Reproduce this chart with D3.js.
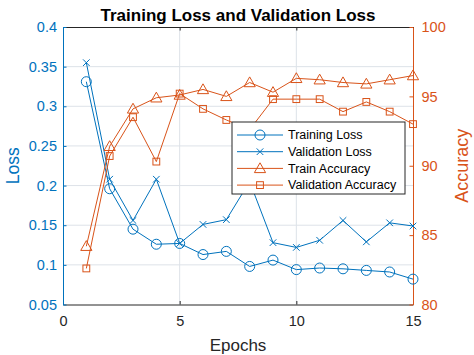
<!DOCTYPE html>
<html><head><meta charset="utf-8">
<script src="https://cdn.jsdelivr.net/npm/d3@7"></script>
<style>body{margin:0;background:#fff}svg{display:block;font-family:"Liberation Sans",Arial,sans-serif}</style>
</head><body><svg id="c" width="474" height="355"></svg>
<script>
const epochs = [1,2,3,4,5,6,7,8,9,10,11,12,13,14,15];
const trainLoss = [0.331,0.196,0.145,0.126,0.127,0.113,0.117,0.098,0.106,0.094,0.096,0.095,0.093,0.091,0.082];
const valLoss   = [0.355,0.208,0.156,0.208,0.127,0.151,0.157,0.205,0.128,0.122,0.131,0.156,0.129,0.153,0.149];
const trainAcc  = [84.2,91.4,94.1,94.9,95.1,95.5,95.0,96.0,95.3,96.3,96.2,96.0,95.9,96.2,96.5];
const valAcc    = [82.6,90.7,93.5,90.3,95.2,94.1,93.3,92.6,94.8,94.8,94.8,93.9,94.6,93.9,93.0];
const xTicks = [0,5,10,15];
const lossTicks = [0.05,0.1,0.15,0.2,0.25,0.3,0.35,0.4];
const lossTickLabels = ["0.05","0.1","0.15","0.2","0.25","0.3","0.35","0.4"];
const accTicks = [80,85,90,95,100];
const legendLabels = ["Training Loss","Validation Loss","Train Accuracy","Validation Accuracy"];
const titleText = "Training Loss and Validation Loss";

const BLUE = "#0072BD", ORANGE = "#D95319", DARK = "#262626";
const L = 63, R = 413, T = 27, B = 304.5;
const svg = d3.select("#c");
const x = d3.scaleLinear().domain([0,15]).range([L,R]);
const yL = d3.scaleLinear().domain([0.05,0.4]).range([B,T]);
const yR = d3.scaleLinear().domain([80,100]).range([B,T]);

// grid
const g = svg.append("g");
g.selectAll(".gx").data(xTicks.slice(1,-1)).enter().append("line")
  .attr("x1",d=>x(d)).attr("x2",d=>x(d)).attr("y1",T).attr("y2",B)
  .attr("stroke","#dde2e8").attr("stroke-width",1);
g.selectAll(".gy").data(lossTicks.slice(1,-1)).enter().append("line")
  .attr("x1",L).attr("x2",R).attr("y1",d=>yL(d)).attr("y2",d=>yL(d))
  .attr("stroke","#dde2e8").attr("stroke-width",1);

// axes
const fs = "14.5px";
const ax = svg.append("g").attr("transform",`translate(0,${B})`)
  .call(d3.axisBottom(x).tickValues(xTicks).tickFormat(d3.format("d")).tickSize(-3.5).tickSizeOuter(0).tickPadding(11));
ax.select(".domain").attr("stroke",DARK);
ax.selectAll("line").attr("stroke",DARK);
ax.selectAll("text").attr("fill",DARK).style("font-size",fs).attr("font-family","Liberation Sans, Arial");
const axT = svg.append("g").attr("transform",`translate(0,${T})`)
  .call(d3.axisTop(x).tickValues(xTicks).tickFormat("").tickSize(-3.5).tickSizeOuter(0));
axT.select(".domain").attr("stroke",DARK);
axT.selectAll("line").attr("stroke",DARK);

const al = svg.append("g").attr("transform",`translate(${L},0)`)
  .call(d3.axisLeft(yL).tickValues(lossTicks).tickFormat((d,i)=>lossTickLabels[i]).tickSize(-3.5).tickSizeOuter(0).tickPadding(6));
al.select(".domain").attr("stroke",BLUE);
al.selectAll("line").attr("stroke",BLUE);
al.selectAll("text").attr("fill",BLUE).style("font-size",fs).attr("font-family","Liberation Sans, Arial");

const ar = svg.append("g").attr("transform",`translate(${R},0)`)
  .call(d3.axisRight(yR).tickValues(accTicks).tickFormat(d3.format("d")).tickSize(-3.5).tickSizeOuter(0).tickPadding(8.5));
ar.select(".domain").attr("stroke",ORANGE);
ar.selectAll("line").attr("stroke",ORANGE);
ar.selectAll("text").attr("fill",ORANGE).style("font-size",fs).attr("font-family","Liberation Sans, Arial");

// labels
svg.append("text").attr("x",(L+R)/2).attr("y",20.5).attr("text-anchor","middle")
  .style("font-size","17px").attr("font-weight","bold").attr("fill","#000").text(titleText);
svg.append("text").attr("x",(L+R)/2).attr("y",350.5).attr("text-anchor","middle")
  .style("font-size","17px").attr("fill",DARK).text("Epochs");
svg.append("text").attr("transform",`translate(18.5,${(T+B)/2}) rotate(-90)`).attr("text-anchor","middle")
  .style("font-size","17.5px").attr("fill",BLUE).text("Loss");
svg.append("text").attr("transform",`translate(467.5,${(T+B)/2}) rotate(-90)`).attr("text-anchor","middle")
  .style("font-size","18px").attr("fill",ORANGE).text("Accuracy");

// markers
function marker(sel, type, color){
  if(type==="o") sel.append("circle").attr("r",5).attr("fill","none").attr("stroke",color);
  if(type==="x") sel.append("path").attr("d","M-3.3,-3.3L3.3,3.3M-3.3,3.3L3.3,-3.3").attr("fill","none").attr("stroke",color);
  if(type==="^") sel.append("path").attr("d","M0,-5.6L5.6,4.2L-5.6,4.2Z").attr("fill","none").attr("stroke",color);
  if(type==="s") sel.append("rect").attr("x",-3.4).attr("y",-3.4).attr("width",6.8).attr("height",6.8).attr("fill","none").attr("stroke",color);
}
const series = [
  {vals:trainLoss, y:yL, color:BLUE, m:"o"},
  {vals:valLoss, y:yL, color:BLUE, m:"x"},
  {vals:trainAcc, y:yR, color:ORANGE, m:"^"},
  {vals:valAcc, y:yR, color:ORANGE, m:"s"}
];
series.forEach(s=>{
  const line = d3.line().x((d,i)=>x(epochs[i])).y(d=>s.y(d));
  svg.append("path").datum(s.vals).attr("d",line).attr("fill","none").attr("stroke",s.color).attr("stroke-width",1);
  s.vals.forEach((v,i)=>{
    const mg = svg.append("g").attr("transform",`translate(${x(epochs[i])},${s.y(v)})`);
    marker(mg, s.m, s.color);
  });
});

// legend
const lg = svg.append("g");
lg.append("rect").attr("x",232).attr("y",122).attr("width",173).attr("height",72)
  .attr("fill","#fff").attr("stroke",DARK).attr("stroke-width",1);
legendLabels.forEach((lab,i)=>{
  const cy = 135 + i*16.7;
  const s = series[i];
  lg.append("line").attr("x1",237).attr("x2",283).attr("y1",cy).attr("y2",cy).attr("stroke",s.color);
  marker(lg.append("g").attr("transform",`translate(260,${cy})`), s.m, s.color);
  lg.append("text").attr("x",288).attr("y",cy).attr("dy","0.35em").style("font-size","12.5px").attr("fill","#000").text(lab);
});
</script></body></html>
